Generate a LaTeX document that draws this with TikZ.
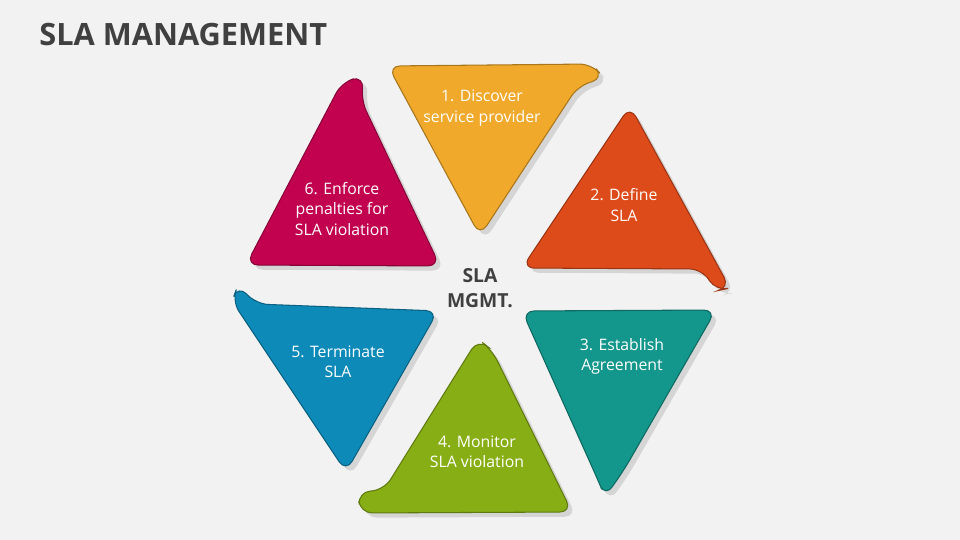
\documentclass[tikz,border=0pt]{standalone}
\usepackage{fontspec}
\setmainfont{Open Sans}
\usetikzlibrary{shadows}
\definecolor{bgcol}{HTML}{F2F2F2}
\definecolor{c1}{HTML}{F0A92A}
\definecolor{c2}{HTML}{DE4B1B}
\definecolor{c3}{HTML}{13968B}
\definecolor{c4}{HTML}{88AE16}
\definecolor{c5}{HTML}{0E8AB9}
\definecolor{c6}{HTML}{C2024F}
\tikzset{
  petal/.style={draw=#1!70!black, line width=0.6pt, fill=#1, rounded corners=7pt, drop shadow={opacity=0.25}},
  label/.style={text=white, font=\fontsize{9}{11.5}\selectfont, align=center}
}
\begin{document}
\begin{tikzpicture}[x=0.02cm, y=-0.02cm]
\useasboundingbox[fill=bgcol] (0,0) rectangle (960,540);
\node[anchor=west, inner sep=0pt, text=black!75, font=\fontsize{17.5}{21}\selectfont\bfseries] (title) at (39,35) {SLA MANAGEMENT};

% six petals
\draw[petal=c1] (388,66) -- (592,64) -- (604,78) -- (578,86) -- (480,236) -- cycle;
\draw[petal=c2] (630,106) -- (730,288) -- (716,291) -- (702,269) -- (522,268) -- cycle;
\draw[petal=c3] (522,311) -- (716,310) -- (624,470) -- (605,497) -- (597,478) -- cycle;
\draw[petal=c4] (478,339) -- (492,350) -- (572,512) -- (360,513) -- (358,492) -- (384,490) -- cycle;
\draw[petal=c5] (232,301) -- (238,285) -- (256,304) -- (438,311) -- (346,472) -- cycle;
\draw[petal=c6] (342,82) -- (364,76) -- (361,100) -- (440,266) -- (246,265) -- cycle;

% labels
\node[label] (l1) at (482,108) {1. Discover\\service provider};
\node[label] (l2) at (624,205) {2. Define\\SLA};
\node[label] (l3) at (622,356) {3. Establish\\Agreement};
\node[label] (l4) at (477,452) {4. Monitor\\SLA violation};
\node[label] (l5) at (338,362) {5. Terminate\\SLA};
\node[label] (l6) at (342,209) {6. Enforce\\penalties for\\SLA violation};
\node[text=black!75, font=\fontsize{11}{14}\selectfont\bfseries, align=center] (hub) at (480,288) {SLA\\MGMT.};
\end{tikzpicture}
\end{document}
